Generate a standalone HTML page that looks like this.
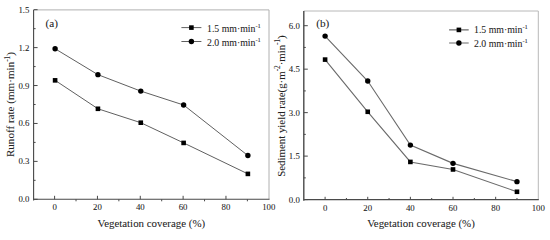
<!DOCTYPE html>
<html><head><meta charset="utf-8"><style>html,body{margin:0;padding:0;background:#fff;width:550px;height:234px;overflow:hidden}svg{display:block}text{font-family:"Liberation Serif",serif;fill:#222;stroke:#222;stroke-width:0.06}</style></head>
<body><svg width="550" height="234" viewBox="0 0 550 234">
<rect width="550" height="234" fill="#fff"/>
<path d="M33.6 9.9H269.0V199.3" fill="none" stroke="#b0b0b0" stroke-width="1"/>
<path d="M33.6 9.9V200.5M33.1 199.3H269.5" fill="none" stroke="#484848" stroke-width="1.1"/>
<path d="M33.6 199.30h4" stroke="#484848" stroke-width="1"/>
<text x="29.40" y="202.30" font-size="8.8" text-anchor="end">0.0</text>
<path d="M33.6 161.38h4" stroke="#484848" stroke-width="1"/>
<text x="29.40" y="164.38" font-size="8.8" text-anchor="end">0.3</text>
<path d="M33.6 123.46h4" stroke="#484848" stroke-width="1"/>
<text x="29.40" y="126.46" font-size="8.8" text-anchor="end">0.6</text>
<path d="M33.6 85.54h4" stroke="#484848" stroke-width="1"/>
<text x="29.40" y="88.54" font-size="8.8" text-anchor="end">0.9</text>
<path d="M33.6 47.62h4" stroke="#484848" stroke-width="1"/>
<text x="29.40" y="50.62" font-size="8.8" text-anchor="end">1.2</text>
<path d="M33.6 9.70h4" stroke="#484848" stroke-width="1"/>
<text x="29.40" y="12.70" font-size="8.8" text-anchor="end">1.5</text>
<path d="M33.6 180.34h2" stroke="#484848" stroke-width="1"/>
<path d="M33.6 142.42h2" stroke="#484848" stroke-width="1"/>
<path d="M33.6 104.50h2" stroke="#484848" stroke-width="1"/>
<path d="M33.6 66.58h2" stroke="#484848" stroke-width="1"/>
<path d="M33.6 28.66h2" stroke="#484848" stroke-width="1"/>
<path d="M54.60 199.3v-3.5" stroke="#484848" stroke-width="1"/>
<text x="54.60" y="210.10" font-size="8.8" text-anchor="middle">0</text>
<path d="M97.44 199.3v-3.5" stroke="#484848" stroke-width="1"/>
<text x="97.44" y="210.10" font-size="8.8" text-anchor="middle">20</text>
<path d="M140.28 199.3v-3.5" stroke="#484848" stroke-width="1"/>
<text x="140.28" y="210.10" font-size="8.8" text-anchor="middle">40</text>
<path d="M183.12 199.3v-3.5" stroke="#484848" stroke-width="1"/>
<text x="183.12" y="210.10" font-size="8.8" text-anchor="middle">60</text>
<path d="M225.96 199.3v-3.5" stroke="#484848" stroke-width="1"/>
<text x="225.96" y="210.10" font-size="8.8" text-anchor="middle">80</text>
<text x="268.80" y="210.10" font-size="8.8" text-anchor="middle">100</text>
<path d="M76.02 199.3v2" stroke="#484848" stroke-width="1"/>
<path d="M118.86 199.3v2" stroke="#484848" stroke-width="1"/>
<path d="M161.70 199.3v2" stroke="#484848" stroke-width="1"/>
<path d="M204.54 199.3v2" stroke="#484848" stroke-width="1"/>
<path d="M247.38 199.3v2" stroke="#484848" stroke-width="1"/>
<polyline points="55.10,80.35 97.94,108.79 140.78,122.70 183.62,142.92 247.88,173.89" fill="none" stroke="#606060" stroke-width="1.0"/>
<rect x="52.80" y="78.05" width="4.6" height="4.6" fill="#000"/>
<rect x="95.64" y="106.49" width="4.6" height="4.6" fill="#000"/>
<rect x="138.48" y="120.40" width="4.6" height="4.6" fill="#000"/>
<rect x="181.32" y="140.62" width="4.6" height="4.6" fill="#000"/>
<rect x="245.58" y="171.59" width="4.6" height="4.6" fill="#000"/>
<polyline points="55.10,48.75 97.94,74.66 140.78,91.10 183.62,105.00 247.88,155.56" fill="none" stroke="#606060" stroke-width="1.0"/>
<circle cx="55.10" cy="48.75" r="2.7" fill="#000"/>
<circle cx="97.94" cy="74.66" r="2.7" fill="#000"/>
<circle cx="140.78" cy="91.10" r="2.7" fill="#000"/>
<circle cx="183.62" cy="105.00" r="2.7" fill="#000"/>
<circle cx="247.88" cy="155.56" r="2.7" fill="#000"/>
<text transform="translate(14,104.6) rotate(-90)" font-size="11.1" text-anchor="middle">Runoff rate (mm·min<tspan font-size="7.2" dy="-4.3">-1</tspan><tspan dy="4.3">)</tspan></text>
<text x="45.5" y="26.7" font-size="11.2">(a)</text>
<path d="M181.4 27.6H201.4M181.4 41.5H201.4" stroke="#606060" stroke-width="1.0"/>
<rect x="189.10" y="25.30" width="4.6" height="4.6" fill="#000"/>
<circle cx="191.40" cy="41.50" r="2.7" fill="#000"/>
<text x="207" y="31.70" font-size="9.8">1.5 mm·min<tspan font-size="6.5" dy="-4">-1</tspan></text>
<text x="207" y="45.60" font-size="9.8">2.0 mm·min<tspan font-size="6.5" dy="-4">-1</tspan></text>
<path d="M303.8 11.0H538.3V199.6" fill="none" stroke="#b8b8b8" stroke-width="1"/>
<path d="M303.8 11.0V200.79999999999998M303.3 199.6H538.8" fill="none" stroke="#4a4a4a" stroke-width="1.4"/>
<path d="M303.8 199.60h4" stroke="#4a4a4a" stroke-width="1"/>
<text x="299.80" y="202.60" font-size="8.8" text-anchor="end">0.0</text>
<path d="M303.8 156.12h4" stroke="#4a4a4a" stroke-width="1"/>
<text x="299.80" y="159.12" font-size="8.8" text-anchor="end">1.5</text>
<path d="M303.8 112.64h4" stroke="#4a4a4a" stroke-width="1"/>
<text x="299.80" y="115.64" font-size="8.8" text-anchor="end">3.0</text>
<path d="M303.8 69.17h4" stroke="#4a4a4a" stroke-width="1"/>
<text x="299.80" y="72.17" font-size="8.8" text-anchor="end">4.5</text>
<path d="M303.8 25.69h4" stroke="#4a4a4a" stroke-width="1"/>
<text x="299.80" y="28.69" font-size="8.8" text-anchor="end">6.0</text>
<path d="M303.8 177.86h2" stroke="#4a4a4a" stroke-width="1"/>
<path d="M303.8 134.38h2" stroke="#4a4a4a" stroke-width="1"/>
<path d="M303.8 90.91h2" stroke="#4a4a4a" stroke-width="1"/>
<path d="M303.8 47.43h2" stroke="#4a4a4a" stroke-width="1"/>
<path d="M325.10 199.6v-2.8" stroke="#4a4a4a" stroke-width="1"/>
<text x="325.10" y="210.80" font-size="8.8" text-anchor="middle">0</text>
<path d="M367.74 199.6v-2.8" stroke="#4a4a4a" stroke-width="1"/>
<text x="367.74" y="210.80" font-size="8.8" text-anchor="middle">20</text>
<path d="M410.38 199.6v-2.8" stroke="#4a4a4a" stroke-width="1"/>
<text x="410.38" y="210.80" font-size="8.8" text-anchor="middle">40</text>
<path d="M453.02 199.6v-2.8" stroke="#4a4a4a" stroke-width="1"/>
<text x="453.02" y="210.80" font-size="8.8" text-anchor="middle">60</text>
<path d="M495.66 199.6v-2.8" stroke="#4a4a4a" stroke-width="1"/>
<text x="495.66" y="210.80" font-size="8.8" text-anchor="middle">80</text>
<text x="538.30" y="210.80" font-size="8.8" text-anchor="middle">100</text>
<path d="M346.42 199.6v-1.6" stroke="#4a4a4a" stroke-width="1"/>
<path d="M389.06 199.6v-1.6" stroke="#4a4a4a" stroke-width="1"/>
<path d="M431.70 199.6v-1.6" stroke="#4a4a4a" stroke-width="1"/>
<path d="M474.34 199.6v-1.6" stroke="#4a4a4a" stroke-width="1"/>
<path d="M516.98 199.6v-1.6" stroke="#4a4a4a" stroke-width="1"/>
<polyline points="325.10,59.60 367.74,111.78 410.38,161.92 453.02,169.46 516.98,191.77" fill="none" stroke="#6a6a6a" stroke-width="1.1"/>
<rect x="322.80" y="57.30" width="4.6" height="4.6" fill="#000"/>
<rect x="365.44" y="109.48" width="4.6" height="4.6" fill="#000"/>
<rect x="408.08" y="159.62" width="4.6" height="4.6" fill="#000"/>
<rect x="450.72" y="167.16" width="4.6" height="4.6" fill="#000"/>
<rect x="514.68" y="189.47" width="4.6" height="4.6" fill="#000"/>
<polyline points="325.10,36.12 367.74,81.05 410.38,145.11 453.02,163.37 516.98,181.63" fill="none" stroke="#6a6a6a" stroke-width="1.1"/>
<circle cx="325.10" cy="36.12" r="2.7" fill="#000"/>
<circle cx="367.74" cy="81.05" r="2.7" fill="#000"/>
<circle cx="410.38" cy="145.11" r="2.7" fill="#000"/>
<circle cx="453.02" cy="163.37" r="2.7" fill="#000"/>
<circle cx="516.98" cy="181.63" r="2.7" fill="#000"/>
<text transform="translate(284.5,106.0) rotate(-90)" font-size="10.85" text-anchor="middle">Sediment yield rate(g·m<tspan font-size="7.2" dy="-4.3">-2</tspan><tspan dy="4.3">·min</tspan><tspan font-size="7.2" dy="-4.3">-1</tspan><tspan dy="4.3">)</tspan></text>
<text x="316.2" y="27.3" font-size="11.2">(b)</text>
<path d="M449.1 29.9H468.7M449.1 43.0H468.7" stroke="#6a6a6a" stroke-width="1.1"/>
<rect x="456.60" y="27.60" width="4.6" height="4.6" fill="#000"/>
<circle cx="458.90" cy="43.00" r="2.7" fill="#000"/>
<text x="474" y="33.40" font-size="9.8">1.5 mm·min<tspan font-size="6.5" dy="-4">-1</tspan></text>
<text x="474" y="46.50" font-size="9.8">2.0 mm·min<tspan font-size="6.5" dy="-4">-1</tspan></text>
<text x="151.3" y="227.3" font-size="10.9" text-anchor="middle">Vegetation coverage (%)</text>
<text x="421" y="227.3" font-size="10.9" text-anchor="middle">Vegetation coverage (%)</text>
</svg></body></html>
